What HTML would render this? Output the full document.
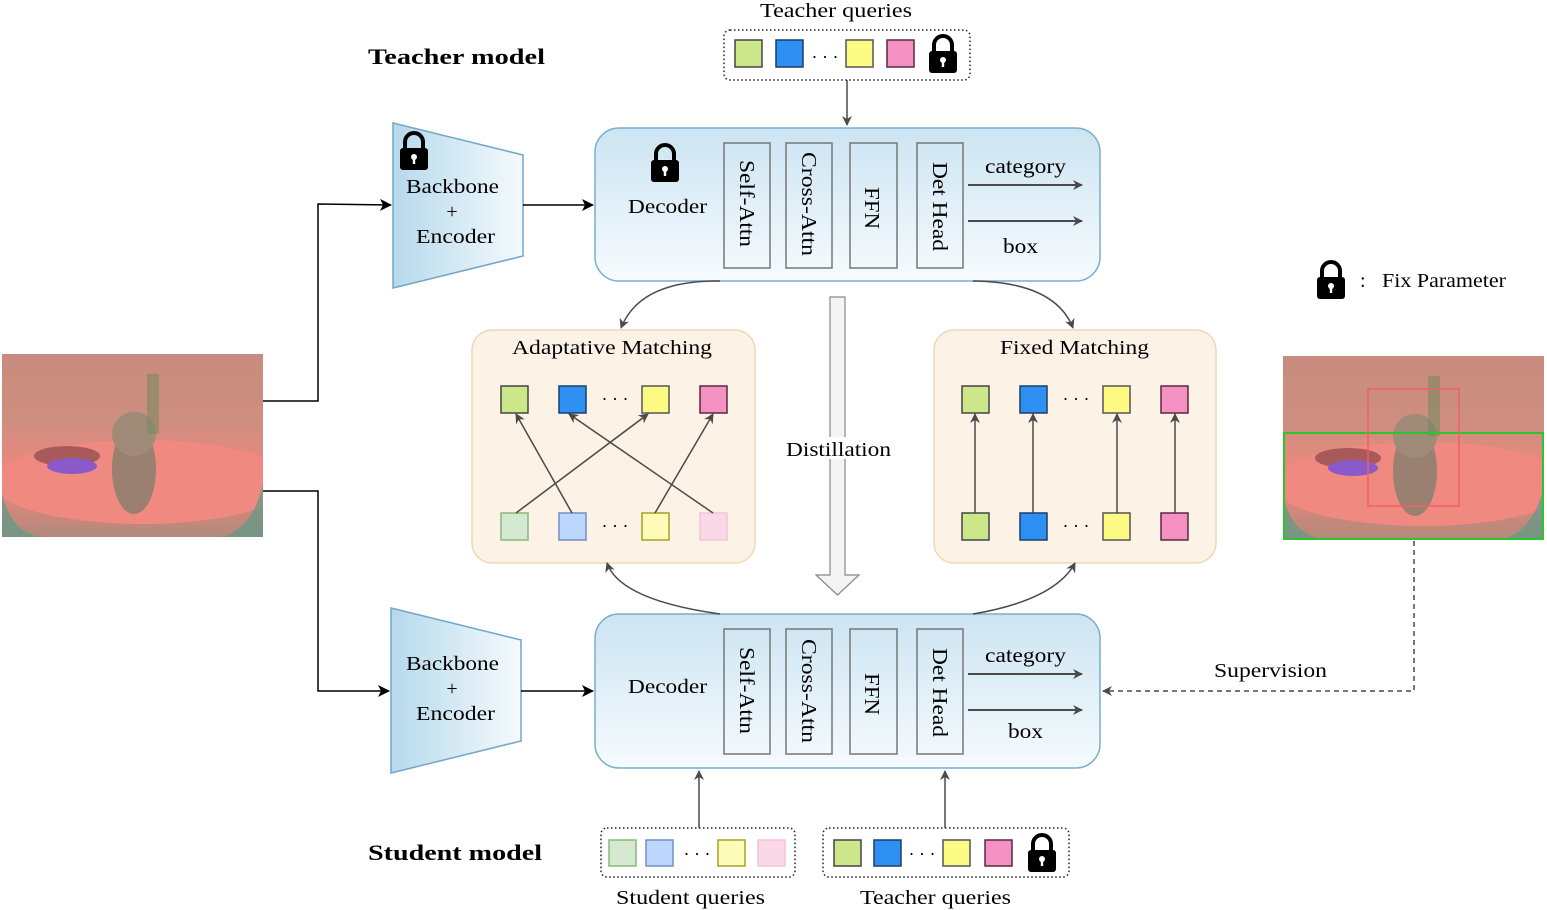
<!DOCTYPE html>
<html><head><meta charset="utf-8"><style>
html,body{margin:0;padding:0;background:#fff;}
svg{display:block;font-family:"Liberation Serif",serif;}
</style></head><body>
<svg width="1547" height="910" viewBox="0 0 1547 910" xmlns="http://www.w3.org/2000/svg">
<defs>
<linearGradient id="dec" x1="0" y1="0" x2="0" y2="1"><stop offset="0" stop-color="#cce4f2"/><stop offset="1" stop-color="#f6fbfe"/></linearGradient>
<linearGradient id="bb" x1="0" y1="0" x2="1" y2="0"><stop offset="0" stop-color="#b6d9ec"/><stop offset="1" stop-color="#f5fafd"/></linearGradient>
<linearGradient id="img" x1="0" y1="0" x2="0" y2="1"><stop offset="0" stop-color="#c48a7a"/><stop offset="0.45" stop-color="#d88c80"/><stop offset="0.7" stop-color="#f2857c"/><stop offset="1" stop-color="#b08a7c"/></linearGradient>
<clipPath id="cc"><rect x="0" y="0" width="261" height="183"/></clipPath>
<marker id="ah" markerWidth="10" markerHeight="10" refX="9" refY="5" orient="auto" markerUnits="userSpaceOnUse"><path d="M0,0 L10,5 L0,10 L3,5 z" fill="#4a4a4a"/></marker>
<marker id="ak" markerWidth="12" markerHeight="12" refX="11" refY="6" orient="auto" markerUnits="userSpaceOnUse"><path d="M0,0 L12,6 L0,12 L3,6 z" fill="#000"/></marker>
<g id="lock"><path d="M6,18 V11 a9,9 0 0 1 18,0 V18" fill="none" stroke="#000" stroke-width="4"/><rect x="1" y="17" width="28" height="22" rx="3" fill="#000"/><circle cx="15" cy="26" r="3" fill="#fff"/><rect x="13.8" y="27" width="2.4" height="6" fill="#fff"/></g>
<g id="cat" clip-path="url(#cc)">
<rect x="0" y="0" width="261" height="183" fill="url(#img)"/>
<rect x="0" y="0" width="261" height="75" fill="#c99080" opacity="0.6"/>
<ellipse cx="140" cy="128" rx="150" ry="42" fill="#f08a80"/>
<path d="M0,140 Q10,180 40,183 L0,183z" fill="#5e9a88" opacity="0.7"/>
<path d="M261,130 Q250,175 220,183 L261,183z" fill="#5e9a88" opacity="0.7"/>
<ellipse cx="65" cy="102" rx="33" ry="10" fill="#a85a5a"/>
<ellipse cx="70" cy="112" rx="25" ry="8" fill="#8a5ac8"/>
<ellipse cx="132" cy="115" rx="22" ry="45" fill="#9a8070"/>
<circle cx="132" cy="80" r="22" fill="#a08a78"/>
<rect x="145" y="20" width="12" height="60" fill="#6a8a5a" opacity="0.5"/>
</g>
</defs>

<text x="368" y="64" font-size="22" font-weight="bold" textLength="177" lengthAdjust="spacingAndGlyphs">Teacher model</text>
<text x="368" y="860" font-size="22" font-weight="bold" textLength="174" lengthAdjust="spacingAndGlyphs">Student model</text>
<text x="760" y="17" font-size="20" textLength="152" lengthAdjust="spacingAndGlyphs">Teacher queries</text>

<rect x="724" y="30" width="246" height="50" rx="6" fill="none" stroke="#222" stroke-width="1.5" stroke-dasharray="1.5,2.5"/>
<rect x="735" y="40" width="27" height="27" fill="#cce68a" stroke="#444" stroke-width="1.5"/>
<rect x="776" y="40" width="27" height="27" fill="#2e90f2" stroke="#1a3e66" stroke-width="1.5"/>
<text x="825" y="63" font-size="18" text-anchor="middle">· · ·</text>
<rect x="846" y="40" width="27" height="27" fill="#fdfa84" stroke="#555" stroke-width="1.5"/>
<rect x="887" y="40" width="27" height="27" fill="#f590c2" stroke="#5a2840" stroke-width="1.5"/>
<use href="#lock" x="928" y="34"/>
<line x1="847" y1="80" x2="847" y2="125" stroke="#4a4a4a" stroke-width="1.5" marker-end="url(#ah)"/>

<path d="M393,123 L523,155 L523,256 L393,288 z" fill="url(#bb)" stroke="#6fa8c8" stroke-width="1.5"/>
<use href="#lock" x="399" y="131"/>
<text x="406" y="193" font-size="20" textLength="93" lengthAdjust="spacingAndGlyphs">Backbone</text>
<text x="452" y="218" font-size="20" text-anchor="middle">+</text>
<text x="416" y="243" font-size="20" textLength="79" lengthAdjust="spacingAndGlyphs">Encoder</text>
<line x1="523" y1="205" x2="593" y2="205" stroke="#000" stroke-width="1.5" marker-end="url(#ak)"/>

<rect x="595" y="128" width="505" height="153" rx="24" fill="url(#dec)" stroke="#79aecb" stroke-width="1.5"/>
<use href="#lock" x="650" y="143"/>
<text x="628" y="213" font-size="20" textLength="79" lengthAdjust="spacingAndGlyphs">Decoder</text>
<g fill="none" stroke="#777" stroke-width="1.5">
<rect x="724" y="143" width="46" height="125"/><rect x="786" y="143" width="46" height="125"/>
<rect x="850" y="143" width="47" height="125"/><rect x="917" y="143" width="46" height="125"/>
</g>
<g font-size="21">
<text transform="translate(740,160) rotate(90)" textLength="87" lengthAdjust="spacingAndGlyphs">Self-Attn</text>
<text transform="translate(802,152) rotate(90)" textLength="104" lengthAdjust="spacingAndGlyphs">Cross-Attn</text>
<text transform="translate(865,187) rotate(90)" textLength="42" lengthAdjust="spacingAndGlyphs">FFN</text>
<text transform="translate(933,162) rotate(90)" textLength="89" lengthAdjust="spacingAndGlyphs">Det Head</text>
<text x="985" y="173" textLength="81" lengthAdjust="spacingAndGlyphs">category</text>
<text x="1003" y="253" textLength="35" lengthAdjust="spacingAndGlyphs">box</text>
</g>
<line x1="968" y1="185" x2="1082" y2="185" stroke="#4a4a4a" stroke-width="2" marker-end="url(#ah)"/>
<line x1="968" y1="221" x2="1082" y2="221" stroke="#4a4a4a" stroke-width="2" marker-end="url(#ah)"/>

<use href="#cat" x="2" y="354"/>
<polyline points="263,401 318,401 318,204 391,205" fill="none" stroke="#000" stroke-width="1.5" marker-end="url(#ak)"/>
<polyline points="263,491 318,491 318,691 389,691" fill="none" stroke="#000" stroke-width="1.5" marker-end="url(#ak)"/>

<path d="M391,608 L521,640 L521,741 L391,773 z" fill="url(#bb)" stroke="#6fa8c8" stroke-width="1.5"/>
<text x="406" y="670" font-size="20" textLength="93" lengthAdjust="spacingAndGlyphs">Backbone</text>
<text x="452" y="695" font-size="20" text-anchor="middle">+</text>
<text x="416" y="720" font-size="20" textLength="79" lengthAdjust="spacingAndGlyphs">Encoder</text>
<line x1="521" y1="691" x2="593" y2="691" stroke="#000" stroke-width="1.5" marker-end="url(#ak)"/>

<rect x="595" y="614" width="505" height="154" rx="24" fill="url(#dec)" stroke="#79aecb" stroke-width="1.5"/>
<text x="628" y="693" font-size="20" textLength="79" lengthAdjust="spacingAndGlyphs">Decoder</text>
<g fill="none" stroke="#777" stroke-width="1.5">
<rect x="724" y="629" width="46" height="125"/><rect x="786" y="629" width="46" height="125"/>
<rect x="850" y="629" width="47" height="125"/><rect x="917" y="629" width="46" height="125"/>
</g>
<g font-size="21">
<text transform="translate(740,647) rotate(90)" textLength="87" lengthAdjust="spacingAndGlyphs">Self-Attn</text>
<text transform="translate(802,639) rotate(90)" textLength="104" lengthAdjust="spacingAndGlyphs">Cross-Attn</text>
<text transform="translate(865,673) rotate(90)" textLength="42" lengthAdjust="spacingAndGlyphs">FFN</text>
<text transform="translate(933,648) rotate(90)" textLength="89" lengthAdjust="spacingAndGlyphs">Det Head</text>
<text x="985" y="662" textLength="81" lengthAdjust="spacingAndGlyphs">category</text>
<text x="1008" y="738" textLength="35" lengthAdjust="spacingAndGlyphs">box</text>
</g>
<line x1="968" y1="674" x2="1082" y2="674" stroke="#4a4a4a" stroke-width="2" marker-end="url(#ah)"/>
<line x1="968" y1="710" x2="1082" y2="710" stroke="#4a4a4a" stroke-width="2" marker-end="url(#ah)"/>

<rect x="472" y="330" width="283" height="233" rx="20" fill="#fdf2e6" stroke="#efd7b8" stroke-width="1.5"/>
<text x="512" y="354" font-size="20" textLength="200" lengthAdjust="spacingAndGlyphs">Adaptative Matching</text>
<rect x="501" y="386" width="27" height="27" fill="#cce68a" stroke="#444" stroke-width="1.5"/>
<rect x="559" y="386" width="27" height="27" fill="#2e90f2" stroke="#1a3e66" stroke-width="1.5"/>
<text x="615" y="405" font-size="18" text-anchor="middle">· · ·</text>
<rect x="642" y="386" width="27" height="27" fill="#fdfa84" stroke="#555" stroke-width="1.5"/>
<rect x="700" y="386" width="27" height="27" fill="#f590c2" stroke="#5a2840" stroke-width="1.5"/>
<rect x="501" y="513" width="27" height="27" fill="#d4e9d0" stroke="#8ab878" stroke-width="1.5"/>
<rect x="559" y="513" width="27" height="27" fill="#bcd7fb" stroke="#6e90c4" stroke-width="1.5"/>
<text x="615" y="532" font-size="18" text-anchor="middle">· · ·</text>
<rect x="642" y="513" width="27" height="27" fill="#fdfcb8" stroke="#a8a020" stroke-width="1.5"/>
<rect x="700" y="513" width="27" height="27" fill="#fbd8e8" stroke="#f4c4d6" stroke-width="1.5"/>
<g stroke="#4a4a4a" stroke-width="1.5" marker-end="url(#ah)">
<line x1="516" y1="513" x2="648" y2="414"/>
<line x1="572" y1="513" x2="516" y2="414"/>
<line x1="655" y1="513" x2="713" y2="414"/>
<line x1="713" y1="513" x2="569" y2="414"/>
</g>

<rect x="934" y="330" width="282" height="233" rx="20" fill="#fdf2e6" stroke="#efd7b8" stroke-width="1.5"/>
<text x="1000" y="354" font-size="20" textLength="149" lengthAdjust="spacingAndGlyphs">Fixed Matching</text>
<rect x="962" y="386" width="27" height="27" fill="#cce68a" stroke="#444" stroke-width="1.5"/>
<rect x="1020" y="386" width="27" height="27" fill="#2e90f2" stroke="#1a3e66" stroke-width="1.5"/>
<text x="1076" y="405" font-size="18" text-anchor="middle">· · ·</text>
<rect x="1103" y="386" width="27" height="27" fill="#fdfa84" stroke="#555" stroke-width="1.5"/>
<rect x="1161" y="386" width="27" height="27" fill="#f590c2" stroke="#5a2840" stroke-width="1.5"/>
<rect x="962" y="513" width="27" height="27" fill="#cce68a" stroke="#444" stroke-width="1.5"/>
<rect x="1020" y="513" width="27" height="27" fill="#2e90f2" stroke="#1a3e66" stroke-width="1.5"/>
<text x="1076" y="532" font-size="18" text-anchor="middle">· · ·</text>
<rect x="1103" y="513" width="27" height="27" fill="#fdfa84" stroke="#555" stroke-width="1.5"/>
<rect x="1161" y="513" width="27" height="27" fill="#f590c2" stroke="#5a2840" stroke-width="1.5"/>
<g stroke="#4a4a4a" stroke-width="1.5" marker-end="url(#ah)">
<line x1="975" y1="513" x2="975" y2="414"/><line x1="1033" y1="513" x2="1033" y2="414"/>
<line x1="1117" y1="513" x2="1117" y2="414"/><line x1="1175" y1="513" x2="1175" y2="414"/>
</g>

<g fill="none" stroke="#4a4a4a" stroke-width="1.5" marker-end="url(#ah)">
<path d="M720,281 Q640,280 621,328"/>
<path d="M973,281 Q1055,282 1073,328"/>
<path d="M720,614 Q620,600 607,563"/>
<path d="M973,614 Q1055,600 1075,563"/>
</g>

<path d="M830,297 L845,297 L845,575 L859,575 L837.5,595 L816,575 L830,575 z" fill="#f4f4f4" stroke="#888" stroke-width="1.2"/>
<rect x="784" y="437" width="110" height="22" fill="#fff"/>
<text x="786" y="456" font-size="20" textLength="105" lengthAdjust="spacingAndGlyphs">Distillation</text>

<use href="#lock" x="1316" y="260"/>
<text x="1360" y="287" font-size="20">:</text>
<text x="1382" y="287" font-size="20" textLength="124" lengthAdjust="spacingAndGlyphs">Fix Parameter</text>

<use href="#cat" x="1283" y="356"/>
<rect x="1284" y="433" width="259" height="106" fill="none" stroke="#2ec42e" stroke-width="2"/>
<rect x="1368" y="389" width="91" height="117" fill="none" stroke="#f06060" stroke-width="1.5"/>
<polyline points="1414,541 1414,691 1103,691" fill="none" stroke="#4a4a4a" stroke-width="1.5" stroke-dasharray="5,4" marker-end="url(#ah)"/>
<text x="1214" y="677" font-size="20" textLength="113" lengthAdjust="spacingAndGlyphs">Supervision</text>

<rect x="601" y="828" width="194" height="49" rx="6" fill="none" stroke="#222" stroke-width="1.5" stroke-dasharray="1.5,2.5"/>
<rect x="609" y="840" width="27" height="26" fill="#d4e9d0" stroke="#8ab878" stroke-width="1.5"/>
<rect x="646" y="840" width="27" height="26" fill="#bcd7fb" stroke="#6e90c4" stroke-width="1.5"/>
<text x="697" y="860" font-size="18" text-anchor="middle">· · ·</text>
<rect x="718" y="840" width="27" height="26" fill="#fdfcb8" stroke="#a8a020" stroke-width="1.5"/>
<rect x="758" y="840" width="27" height="26" fill="#fbd8e8" stroke="#f4c4d6" stroke-width="1.5"/>
<text x="616" y="904" font-size="20" textLength="149" lengthAdjust="spacingAndGlyphs">Student queries</text>

<rect x="823" y="828" width="246" height="49" rx="6" fill="none" stroke="#222" stroke-width="1.5" stroke-dasharray="1.5,2.5"/>
<rect x="834" y="840" width="27" height="26" fill="#cce68a" stroke="#444" stroke-width="1.5"/>
<rect x="874" y="840" width="27" height="26" fill="#2e90f2" stroke="#1a3e66" stroke-width="1.5"/>
<text x="922" y="860" font-size="18" text-anchor="middle">· · ·</text>
<rect x="943" y="840" width="27" height="26" fill="#fdfa84" stroke="#555" stroke-width="1.5"/>
<rect x="985" y="840" width="27" height="26" fill="#f590c2" stroke="#5a2840" stroke-width="1.5"/>
<use href="#lock" x="1027" y="833"/>
<text x="860" y="904" font-size="20" textLength="151" lengthAdjust="spacingAndGlyphs">Teacher queries</text>

<line x1="699" y1="828" x2="699" y2="771" stroke="#4a4a4a" stroke-width="1.5" marker-end="url(#ah)"/>
<line x1="945" y1="828" x2="945" y2="771" stroke="#4a4a4a" stroke-width="1.5" marker-end="url(#ah)"/>
</svg>
</body></html>
